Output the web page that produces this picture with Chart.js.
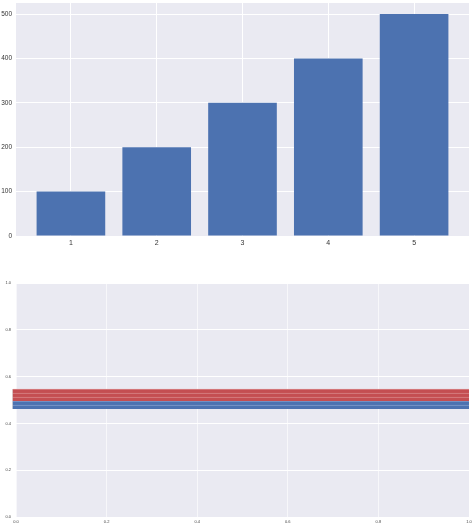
<!DOCTYPE html>
<html>
<head>
<meta charset="utf-8">
<script src="https://cdn.jsdelivr.net/npm/chart.js@4.4.1/dist/chart.umd.min.js"></script>
<style>
  body { margin: 0; background: #fff; }
  #top { position: absolute; left: 0; top: 0; }
  #bottom { position: absolute; left: 0; top: 260px; }
</style>
</head>
<body>
<canvas id="top" width="474" height="260"></canvas>
<canvas id="bottom" width="474" height="266"></canvas>
<script>
// top panel: simple bars
const barX = [1, 2, 3, 4, 5]
const barValues = [100, 200, 300, 400, 500]
const topXTicks = [1, 2, 3, 4, 5]
const topYTicks = [0, 100, 200, 300, 400, 500]

// bottom panel: horizontal striped bands
const redStripes = [0.5385, 0.5214, 0.5043]
const blueStripes = [0.4872, 0.4701]
const fullSpan = [-0.007, 1.0]
const edgeSpan = [-0.007, 0.9]
const unitTicks = [0, 0.2, 0.4, 0.6, 0.8, 1.0]

const BG = '#EAEAF2'
const RED = '#C44E52'
const BLUE = '#4C72B0'

const plotBg = {
    id: 'plotBg',
    beforeDraw(chart) {
        const a = chart.chartArea
        const c = chart.ctx
        c.save()
        c.fillStyle = BG
        c.fillRect(a.left, a.top, a.right - a.left, a.bottom - a.top)
        c.restore()
    }
}

const setTicks = vals => scale => { scale.ticks = vals.map(v => ({ value: v })) }
// keep label overflow from pushing the plot area around
const fixSize = (w, h) => s => {
    if (w !== undefined) s.width = w
    if (h !== undefined) s.height = h
    s.paddingTop = 0
    s.paddingBottom = 0
}

new Chart(document.getElementById('top'), {
    type: 'bar',
    plugins: [plotBg],
    data: {
        datasets: [{
            data: barX.map((x, i) => ({ x: x, y: barValues[i] })),
            backgroundColor: BLUE,
            borderWidth: 0,
            barPercentage: 0.8,
            categoryPercentage: 1
        }]
    },
    options: {
        responsive: false,
        animation: false,
        layout: { padding: { top: 3, right: 5, left: 0, bottom: 0 } },
        plugins: { legend: { display: false }, tooltip: { enabled: false } },
        scales: {
            x: {
                type: 'linear', min: 0.36, max: 5.64, offset: false,
                afterBuildTicks: setTicks(topXTicks),
                afterFit: fixSize(undefined, 24),
                grid: { color: '#fff', lineWidth: 1, drawTicks: false, offset: false },
                border: { display: false },
                ticks: { padding: 3, color: '#333', font: { family: 'Liberation Sans', size: 7 } }
            },
            y: {
                min: 0, max: 525,
                afterBuildTicks: setTicks(topYTicks),
                afterFit: fixSize(16),
                grid: { color: '#fff', lineWidth: 1, drawTicks: false },
                border: { display: false },
                ticks: { padding: 4, color: '#333', font: { family: 'Liberation Sans', size: 6.5 } }
            }
        }
    }
})

const stripeSet = (ys, color, line) => ({
    data: ys.map(y => ({ y: y, x: fullSpan })),
    backgroundColor: color,
    borderColor: line,
    borderWidth: { top: 1, bottom: 0, left: 0, right: 0 },
    borderSkipped: false,
    grouped: false,
    barPercentage: 1,
    categoryPercentage: 1,
    clip: false
})

const edgeSet = (ys, dark) => ({
    data: ys.map(y => ({ y: y, x: edgeSpan })),
    backgroundColor: 'rgba(0,0,0,0)',
    borderColor: dark,
    borderWidth: { top: 0, bottom: 0, left: 1, right: 1 },
    borderSkipped: false,
    grouped: false,
    barPercentage: 1,
    categoryPercentage: 1,
    clip: false
})

new Chart(document.getElementById('bottom'), {
    type: 'bar',
    plugins: [plotBg],
    data: {
        datasets: [
            stripeSet(redStripes, RED, '#D98487'),
            stripeSet(blueStripes, BLUE, '#7F9CCB'),
            edgeSet(redStripes, '#7A2E31'),
            edgeSet(blueStripes, '#283F68')
        ]
    },
    options: {
        indexAxis: 'y',
        responsive: false,
        animation: false,
        layout: { padding: { top: 23, right: 5, left: 0, bottom: 0 } },
        plugins: { legend: { display: false }, tooltip: { enabled: false } },
        scales: {
            x: {
                type: 'linear', min: 0, max: 1, offset: false, z: 1,
                afterBuildTicks: setTicks(unitTicks),
                afterFit: fixSize(undefined, 9),
                grid: { color: 'rgba(255,255,255,0.6)', lineWidth: 1, drawTicks: false, offset: false },
                border: { display: false },
                ticks: { padding: 2, color: '#444', maxRotation: 0, font: { family: 'Liberation Sans', size: 4 },
                         callback: v => v.toFixed(1) }
            },
            y: {
                type: 'linear', min: 0, max: 1, offset: false,
                afterBuildTicks: setTicks(unitTicks),
                afterFit: fixSize(16),
                grid: { color: '#fff', lineWidth: 1, drawTicks: false, offset: false },
                border: { display: false },
                ticks: { padding: 5, color: '#444', font: { family: 'Liberation Sans', size: 4 },
                         callback: v => v.toFixed(1) }
            }
        }
    }
})
</script>
</body>
</html>
